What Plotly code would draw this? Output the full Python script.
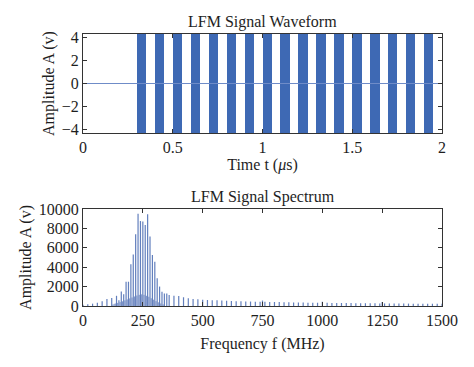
import plotly.graph_objects as go
from plotly.subplots import make_subplots

# ---------------- data ----------------
# top: waveform (rendered blocks of the dense LFM oscillation)
block_start_us = [0.30, 0.40, 0.50, 0.60, 0.70, 0.80, 0.90, 1.00, 1.10,
                  1.20, 1.30, 1.40, 1.50, 1.60, 1.70, 1.80, 1.90]
block_width_us = 0.052
amplitude_v = 4.3
zero_line_t = [0.0, 2.0]
zero_line_a = [0.0, 0.0]

# bottom: spectrum main lines
main_freq = [0, 20, 40, 60, 80, 100, 120, 140, 150, 160, 170, 180, 190, 200,
             210, 220, 230, 240, 250, 260, 270, 280, 290, 300, 310, 320, 330,
             340, 350, 360, 380, 400, 420, 440, 460, 480, 500, 520, 540, 560,
             580, 600, 620, 640, 660, 680, 700, 720, 740, 750, 760, 780, 800,
             820, 840, 860, 880, 900, 920, 940, 960, 980, 1000, 1020, 1040,
             1060, 1080, 1100, 1120, 1140, 1160, 1180, 1200, 1220, 1240, 1250,
             1260, 1280, 1300, 1320, 1340, 1360, 1380, 1400, 1420, 1440, 1460,
             1480, 1500]
main_amp = [120, 170, 240, 340, 500, 720, 820, 1050, 600, 1500, 1200, 2500,
            2500, 4300, 5300, 7400, 9500, 8750, 8700, 8350, 9450, 7150, 5250,
            4550, 2850, 2000, 1480, 1300, 1300, 1130, 1060, 1030, 900, 800,
            720, 690, 650, 620, 600, 580, 560, 540, 520, 500, 480, 470, 460,
            450, 440, 560, 430, 420, 410, 400, 390, 380, 370, 360, 350, 345,
            340, 335, 450, 330, 320, 315, 310, 305, 300, 295, 290, 285, 280,
            275, 270, 420, 265, 260, 255, 250, 248, 245, 242, 240, 238, 235,
            232, 230, 228]

# bottom: dense low side lines under the main lobe
side_freq = [125, 130, 135, 145, 155, 165, 175, 185, 195, 205, 215, 225, 235,
             245, 255, 265, 275, 285, 295, 305, 315, 325, 335]
side_amp = [150, 220, 260, 320, 400, 480, 580, 680, 780, 880, 980, 1080,
            1150, 1200, 1150, 1050, 950, 800, 650, 500, 380, 260, 170]

x_ticks_top = [0, 0.5, 1, 1.5, 2]
x_ticks_bot = [0, 250, 500, 750, 1000, 1250, 1500]
y_ticks_top = [-4, -2, 0, 2, 4]
y_ticks_bot = [0, 2000, 4000, 6000, 8000, 10000]

# ---------------- figure ----------------
FONT = "Liberation Serif"
TXT = "#1e1e1e"
BAR_BLUE = "#3e69b4"
LINE_BLUE = "#6f8cc8"
STEM_BLUE = "rgba(70,104,178,0.85)"
SIDE_BLUE = "rgba(40,75,160,0.6)"

fig = make_subplots(rows=2, cols=1)

fig.add_trace(go.Scatter(x=zero_line_t, y=zero_line_a, mode="lines",
                         line=dict(color=LINE_BLUE, width=1),
                         hoverinfo="skip", showlegend=False), row=1, col=1)
fig.add_trace(go.Bar(x=block_start_us,
                     y=[2 * amplitude_v] * len(block_start_us),
                     base=-amplitude_v, offset=0, width=block_width_us,
                     marker=dict(color=BAR_BLUE, line=dict(width=0)),
                     showlegend=False), row=1, col=1)


def stems(freqs, amps):
    xs, ys = [], []
    for f, a in zip(freqs, amps):
        xs += [f, f, None]
        ys += [0, a, None]
    return xs, ys


sx, sy = stems(side_freq, side_amp)
fig.add_trace(go.Scatter(x=sx, y=sy, mode="lines",
                         line=dict(color=SIDE_BLUE, width=1),
                         hoverinfo="skip", showlegend=False), row=2, col=1)
mx, my = stems(main_freq, main_amp)
fig.add_trace(go.Scatter(x=mx, y=my, mode="lines",
                         line=dict(color=STEM_BLUE, width=1.2),
                         hoverinfo="skip", showlegend=False), row=2, col=1)

axis_common = dict(showline=True, linecolor="#333333", linewidth=1,
                   mirror="ticks", ticks="inside", ticklen=4,
                   tickcolor="#333333", showgrid=False, zeroline=False,
                   tickfont=dict(family=FONT, size=16, color=TXT),
                   title_font=dict(family=FONT, size=16, color=TXT))

fig.update_xaxes(**axis_common)
fig.update_yaxes(**axis_common)

fig.update_xaxes(range=[0, 2], tickvals=x_ticks_top,
                 ticktext=["0", "0.5", "1", "1.5", "2"],
                 title_text="Time t (<i>μ</i>s)", title_standoff=3,
                 domain=[0, 1], row=1, col=1)
fig.update_yaxes(range=[-4.3, 4.3], tickvals=y_ticks_top,
                 title_text="Amplitude A (v)", title_standoff=3,
                 domain=[0.636, 1], row=1, col=1)
fig.update_xaxes(range=[0, 1500], tickvals=x_ticks_bot,
                 ticktext=[str(v) for v in x_ticks_bot],
                 title_text="Frequency f (MHz)", title_standoff=9,
                 domain=[0, 1], row=2, col=1)
fig.update_yaxes(range=[0, 10000], tickvals=y_ticks_bot,
                 ticktext=[str(v) for v in y_ticks_bot],
                 title_text="Amplitude A (v)", title_standoff=3,
                 domain=[0, 0.357], row=2, col=1)

fig.add_annotation(text="LFM Signal Waveform", xref="paper", yref="paper",
                   x=0.5, y=1, yanchor="bottom", yshift=1, showarrow=False,
                   font=dict(family=FONT, size=16, color=TXT))
fig.add_annotation(text="LFM Signal Spectrum", xref="paper", yref="paper",
                   x=0.5, y=0.357, yanchor="bottom", yshift=1, showarrow=False,
                   font=dict(family=FONT, size=16, color=TXT))

# page body adds an 8px offset, so margins are shifted to keep axes in place
fig.update_layout(width=474, height=367,
                  margin=dict(l=75, r=40, t=26, b=69),
                  paper_bgcolor="white", plot_bgcolor="white",
                  bargap=0, showlegend=False,
                  font=dict(family=FONT, size=16, color=TXT))

fig.write_html("out.html")
